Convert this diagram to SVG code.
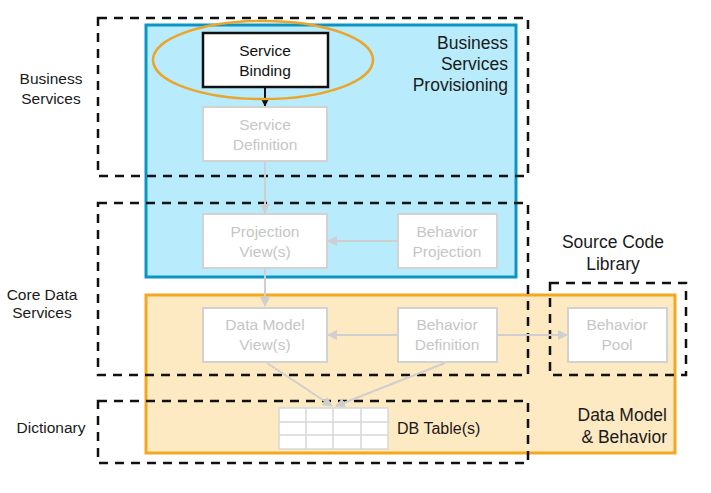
<svg xmlns="http://www.w3.org/2000/svg" width="711" height="493" viewBox="0 0 711 493">
<defs>
<style>
text{font-family:"Liberation Sans",Arial,sans-serif;}
.lbl{font-size:15.5px;fill:#1a1a1a;}
.big{font-size:17.5px;fill:#1a1a1a;}
.dash{fill:none;stroke:#111;stroke-width:2.5;stroke-dasharray:9 7;}
.node{fill:#fff;stroke:#d2d2d2;stroke-width:2;}
.ntxt{font-size:15.5px;fill:#c6c6c6;text-anchor:middle;}
.conn{stroke:#cfcfcf;stroke-width:2;fill:none;}
</style>
<marker id="ag" viewBox="0 0 10 10" refX="9" refY="5" markerWidth="5" markerHeight="5" orient="auto"><path d="M0,0L10,5L0,10z" fill="#cfcfcf"/></marker>
<marker id="ab" viewBox="0 0 10 10" refX="9" refY="5" markerWidth="4" markerHeight="4" orient="auto"><path d="M0,0L10,5L0,10z" fill="#111"/></marker>
</defs>
<rect width="711" height="493" fill="#fff"/>
<g id="area-bsp">
<rect x="146" y="25" width="370" height="252" fill="#b8ebfb" stroke="#0a96c4" stroke-width="3"/>
<text class="big" text-anchor="end"><tspan x="508" y="49">Business</tspan><tspan x="508" y="70">Services</tspan><tspan x="508" y="91">Provisioning</tspan></text>
</g>
<g id="area-dmb">
<rect x="146" y="295" width="529" height="158" fill="#fde9c2" stroke="#f3a820" stroke-width="3"/>
<text class="big" text-anchor="end"><tspan x="667" y="421">Data Model</tspan><tspan x="667" y="443">&amp; Behavior</tspan></text>
</g>
<g id="layers">
<rect class="dash" x="98" y="18" width="430" height="158"/>
<rect class="dash" x="98" y="203" width="430" height="172"/>
<rect class="dash" x="98" y="401" width="430" height="62"/>
<rect class="dash" x="550" y="283" width="136" height="92"/>
<text class="lbl" text-anchor="middle"><tspan x="51" y="84">Business</tspan><tspan x="51" y="104">Services</tspan></text>
<text class="lbl" text-anchor="middle"><tspan x="42" y="300">Core Data</tspan><tspan x="42" y="318">Services</tspan></text>
<text class="lbl" text-anchor="middle" x="51" y="433">Dictionary</text>
<text class="big" text-anchor="middle"><tspan x="613" y="248">Source Code</tspan><tspan x="613" y="270">Library</tspan></text>
</g>
<g id="connectors">
<line x1="265" y1="87" x2="265" y2="106" stroke="#111" stroke-width="2" marker-end="url(#ab)"/>
<line class="conn" x1="265" y1="161" x2="265" y2="213" marker-end="url(#ag)"/>
<line class="conn" x1="398" y1="241" x2="328" y2="241" marker-end="url(#ag)"/>
<line class="conn" x1="265" y1="268" x2="265" y2="306" marker-end="url(#ag)"/>
<line class="conn" x1="398" y1="335" x2="328" y2="335" marker-end="url(#ag)"/>
<line class="conn" x1="497" y1="335" x2="567" y2="335" marker-end="url(#ag)"/>
<line class="conn" x1="267" y1="363" x2="332" y2="406" marker-end="url(#ag)"/>
<line class="conn" x1="445" y1="363" x2="336" y2="406" marker-end="url(#ag)"/>
</g>
<g id="service-binding">
<rect x="203" y="33" width="125" height="54" fill="#fff" stroke="#111" stroke-width="2.5"/>
<text font-size="15.5" fill="#111" text-anchor="middle"><tspan x="265" y="56">Service</tspan><tspan x="265" y="76">Binding</tspan></text>
<ellipse cx="263" cy="60" rx="110" ry="39" fill="none" stroke="#eba52a" stroke-width="2.5"/>
</g>
<g id="service-definition">
<rect class="node" x="203" y="107" width="124" height="54"/>
<text class="ntxt"><tspan x="265" y="130">Service</tspan><tspan x="265" y="150">Definition</tspan></text>
</g>
<g id="projection-views">
<rect class="node" x="203" y="214" width="124" height="54"/>
<text class="ntxt"><tspan x="265" y="237">Projection</tspan><tspan x="265" y="257">View(s)</tspan></text>
</g>
<g id="behavior-projection">
<rect class="node" x="398" y="214" width="99" height="54"/>
<text class="ntxt"><tspan x="447" y="237">Behavior</tspan><tspan x="447" y="257">Projection</tspan></text>
</g>
<g id="data-model-views">
<rect class="node" x="203" y="308" width="124" height="54"/>
<text class="ntxt"><tspan x="265" y="330">Data Model</tspan><tspan x="265" y="350">View(s)</tspan></text>
</g>
<g id="behavior-definition">
<rect class="node" x="398" y="308" width="99" height="54"/>
<text class="ntxt"><tspan x="447" y="330">Behavior</tspan><tspan x="447" y="350">Definition</tspan></text>
</g>
<g id="behavior-pool">
<rect class="node" x="568" y="308" width="99" height="54"/>
<text class="ntxt"><tspan x="617" y="330">Behavior</tspan><tspan x="617" y="350">Pool</tspan></text>
</g>
<g id="db-tables">
<rect x="279" y="408" width="109" height="41" fill="#fff" stroke="#d8d8d8" stroke-width="1.5"/>
<path d="M306,408V449M333,408V449M361,408V449M279,422H388M279,435H388" stroke="#d8d8d8" stroke-width="1.5" fill="none"/>
<text font-size="16" fill="#1a1a1a" x="397" y="434">DB Table(s)</text>
</g>
</svg>
